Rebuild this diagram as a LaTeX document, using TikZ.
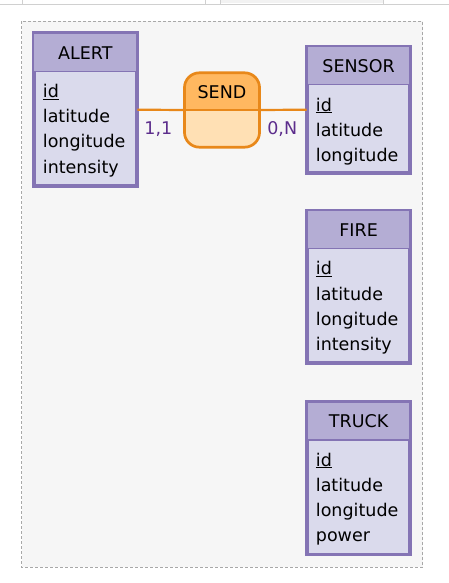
\documentclass[tikz,border=0pt]{standalone}
\usepackage{fontspec}
\setmainfont{DejaVu Sans}
\definecolor{ebord}{RGB}{132,116,180}
\definecolor{ehead}{RGB}{180,173,212}
\definecolor{ebody}{RGB}{218,218,236}
\definecolor{oline}{RGB}{232,136,26}
\definecolor{ohead}{RGB}{255,184,96}
\definecolor{obody}{RGB}{255,224,180}
\definecolor{lblc}{RGB}{92,45,140}
\definecolor{framefill}{RGB}{246,246,246}
\definecolor{framedash}{RGB}{168,168,168}
\definecolor{uigray}{RGB}{208,208,208}
\begin{document}
\begin{tikzpicture}[x=1pt,y=-1pt,
  txt/.style={font=\fontsize{17.5}{20}\selectfont, inner sep=0pt},
  ebox/.style={draw=ebord, line width=2.5pt, fill=ebody, minimum width=101.7pt, inner sep=0pt},
  ehd/.style={fill=ehead, minimum width=101.7pt, minimum height=37pt, inner sep=0pt, anchor=north, font=\fontsize{17.5}{20}\selectfont},
  attr/.style={txt, anchor=base west},
  divl/.style={draw=ebord, line width=1.5pt},
  conn/.style={draw=oline, line width=2.2pt},
  card/.style={txt, text=lblc}
]
\useasboundingbox (0,0) rectangle (449,583);
\fill[white] (0,0) rectangle (449,583);
% browser strip
\fill[black!5] (220,0) rectangle (383,3.5);
\draw[uigray, line width=1pt] (220,0) -- (220,4) (383,0) -- (383,4) (22,0) -- (22,4) (205,0) -- (205,4);
\draw[uigray, line width=1.2pt] (0,4.3) -- (449,4.3);
% frame
\draw[framedash, fill=framefill, dashed, line width=0.8pt, dash pattern=on 3pt off 2pt] (21.5,21) rectangle (422.5,567.3);

% connectors (drawn first, under the relationship)
\coordinate (c1) at (137,110);
% ALERT
\node[ebox, minimum height=151.5pt] (alert) at (85.3,109.7) {};
\node[ehd] (alerthd) at ([yshift=-1.25pt]alert.north) {ALERT};
\draw[divl] (alerthd.south west) -- (alerthd.south east);
\draw[draw=ebord, line width=2.5pt] (alert.north west) rectangle (alert.south east);
\node[attr] (a1) at (42.7,97.3) {\underline{id}};
\node[attr] (a2) at (42.7,122.6) {latitude};
\node[attr] (a3) at (42.7,147.9) {longitude};
\node[attr] (a4) at (42.7,173.2) {intensity};

% SENSOR
\node[ebox, minimum height=124.8pt] (sensor) at (358.6,109.7) {};
\node[ehd] (sensorhd) at ([yshift=-1.25pt]sensor.north) {SENSOR};
\draw[divl] (sensorhd.south west) -- (sensorhd.south east);
\draw[draw=ebord, line width=2.5pt] (sensor.north west) rectangle (sensor.south east);
\node[attr] (s1) at (315.7,111) {\underline{id}};
\node[attr] (s2) at (315.7,136.3) {latitude};
\node[attr] (s3) at (315.7,161.6) {longitude};

% SEND relationship
\node[minimum width=74.7pt, minimum height=74pt, inner sep=0pt] (send) at (222,110) {};
\draw[conn] (alert.east) -- (send.west);
\draw[conn] (send.east) -- (sensor.west);
\fill[obody, rounded corners=15pt] (send.north west) rectangle (send.south east);
\begin{scope}
  \clip (send.north west) rectangle (send.east);
  \fill[ohead, rounded corners=15pt] (send.north west) rectangle (send.south east);
\end{scope}
\draw[oline, line width=1.8pt] (send.west) -- (send.east);
\draw[oline, line width=2.7pt, rounded corners=15pt] (send.north west) rectangle (send.south east);
\node[txt] (sendt) at (222,92.5) {SEND};

% cardinalities
\node[card] (k1) at (158.3,129.5) {1,1};
\node[card] (k2) at (282.2,129.5) {0,N};

% FIRE
\node[ebox, minimum height=151.5pt] (fire) at (358.6,286.8) {};
\node[ehd] (firehd) at ([yshift=-1.25pt]fire.north) {FIRE};
\draw[divl] (firehd.south west) -- (firehd.south east);
\draw[draw=ebord, line width=2.5pt] (fire.north west) rectangle (fire.south east);
\node[attr] (f1) at (315.7,274.7) {\underline{id}};
\node[attr] (f2) at (315.7,300) {latitude};
\node[attr] (f3) at (315.7,325.3) {longitude};
\node[attr] (f4) at (315.7,350.6) {intensity};

% TRUCK
\node[ebox, minimum height=151pt] (truck) at (358.6,478.3) {};
\node[ehd] (truckhd) at ([yshift=-1.25pt]truck.north) {TRUCK};
\draw[divl] (truckhd.south west) -- (truckhd.south east);
\draw[draw=ebord, line width=2.5pt] (truck.north west) rectangle (truck.south east);
\node[attr] (t1) at (315.7,466) {\underline{id}};
\node[attr] (t2) at (315.7,491.3) {latitude};
\node[attr] (t3) at (315.7,516.6) {longitude};
\node[attr] (t4) at (315.7,541.9) {power};
\end{tikzpicture}
\end{document}
